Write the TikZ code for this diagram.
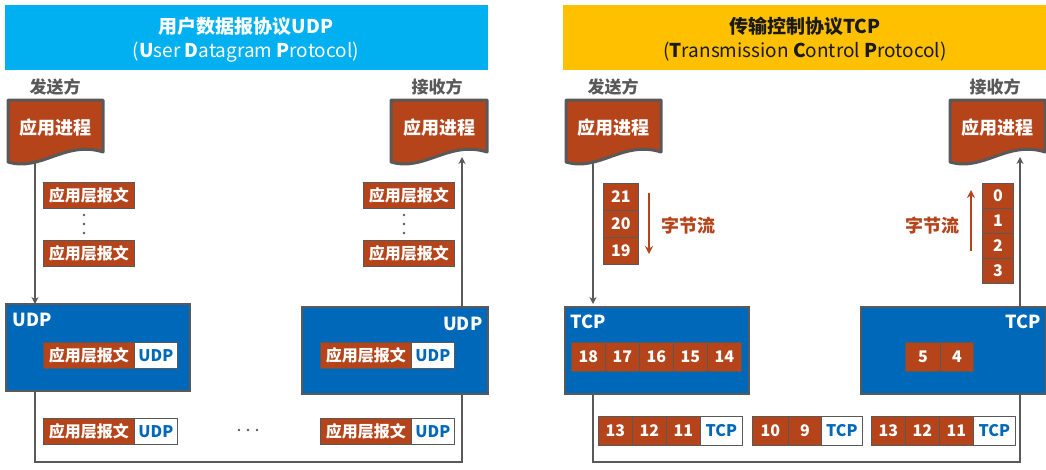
\documentclass[tikz,border=0pt]{standalone}
\usepackage{fontspec}
\setmainfont{Noto Sans CJK SC}
\usetikzlibrary{arrows.meta}
\definecolor{brn}{HTML}{B5441A}
\definecolor{blu}{HTML}{0068B8}
\definecolor{cyn}{HTML}{00B0F0}
\definecolor{gld}{HTML}{FFC000}
\definecolor{gry}{HTML}{595959}
\definecolor{ttl}{HTML}{1A1A1A}
\tikzset{
 cell/.style={draw=gry,fill=brn,text=white,font=\bfseries\fontsize{16}{16}\selectfont,inner sep=0pt,line width=0.8pt,anchor=north west},
 wcell/.style={draw=gry,fill=white,text=blu,font=\bfseries\fontsize{16}{16}\selectfont,inner sep=0pt,line width=0.8pt,anchor=north west},
 bbox/.style={draw=gry,fill=blu,line width=2pt},
 lbl/.style={font=\bfseries\fontsize{17}{17}\selectfont,text=gry},
 blab/.style={font=\bfseries\fontsize{18}{18}\selectfont,text=white},
 conn/.style={draw=gry,line width=2pt,-{Stealth[length=7pt,width=7pt]}},
 sarr/.style={draw=brn,line width=2.5pt,-{Stealth[length=8pt,width=8pt]}},
 doc/.style={draw=gry,fill=brn,line width=3pt,line join=round},
 ttlA/.style={font=\bfseries\fontsize{19}{19}\selectfont},
 ttlB/.style={font=\fontsize{19}{19}\selectfont}
}
\newcommand{\mydoc}[3]{% x0 x1 name
 \draw[doc] (#1,100) -- (#2,100) -- (#2,152) .. controls ({#1+0.6*(#2-#1)},140) and ({#1+0.35*(#2-#1)},172) .. (#1,162) -- cycle;
 \node[text=white,font=\bfseries\fontsize{18}{18}\selectfont] (#3) at ({(#1+#2)/2},128) {应用进程};
 \coordinate (#3b) at ({(#1+#2)/2},160);}
\begin{document}
\begin{tikzpicture}[x=1pt,y=-1pt]
\useasboundingbox (0,0) rectangle (1046,469);
% headers
\fill[cyn] (5,5) rectangle (488,70);
\fill[gld] (563,5) rectangle (1046,70);
\node[text=white,ttlA] (h1) at (246,26) {用户数据报协议UDP};
\node[text=white,ttlB] (h2) at (246,52) {(\textbf{U}ser \textbf{D}atagram \textbf{P}rotocol)};
\node[text=ttl,ttlA] (h3) at (805,26) {传输控制协议TCP};
\node[text=ttl,ttlB] (h4) at (805,52) {(\textbf{T}ransmission \textbf{C}ontrol \textbf{P}rotocol)};
% ===== UDP =====
\node[lbl] (s1) at (55,87) {发送方};
\node[lbl] (r1) at (437,87) {接收方};
\mydoc{8}{103}{ap1}
\mydoc{391}{487}{ap2}
\foreach \x/\n in {43/a,363/b}{
 \node[cell,minimum width=91pt,minimum height=26pt] (m\n1) at (\x,182) {应用层报文};
 \node[cell,minimum width=91pt,minimum height=26pt] (m\n2) at (\x,240) {应用层报文};
 \foreach \yy in {215,224,233} \fill[gry] ({\x+41},\yy) circle (1.3pt);
}
\draw[bbox] (6,304) rectangle (190,391);
\node[blab,anchor=west] (u1) at (9,320) {UDP};
\draw[bbox] (302,307) rectangle (488,394);
\node[blab,anchor=east] (u2) at (486,324) {UDP};
\newcommand{\udpmsg}[3]{%
 \node[cell,minimum width=91pt,minimum height=26pt] (#3a) at (#1,#2) {应用层报文};
 \node[wcell,minimum width=43pt,minimum height=26pt] (#3b) at (#1+91,#2) {UDP};}
\udpmsg{43}{342}{p1}
\udpmsg{320}{342}{p2}
\udpmsg{43}{418}{p3}
\udpmsg{320}{418}{p4}
\foreach \xx in {239,248,257} \fill[gry] (\xx,430) circle (1.4pt);
\coordinate (dots) at (248,430);
\coordinate (c1) at (35,304);
\draw[conn] (ap1b -| c1) -- (c1);
\coordinate (c2) at (35,462);
\coordinate (c3) at (462,462);
\coordinate (c4) at (462,394);
\draw[draw=gry,line width=2pt] (35,391) -- (c2) -- (c3) -- (c4);
\draw[conn] (462,307) -- (462,157);
% ===== TCP =====
\node[lbl] (s2) at (613,87) {发送方};
\node[lbl] (r2) at (995,87) {接收方};
\mydoc{566}{661}{ap3}
\mydoc{950}{1045}{ap4}
\foreach \t [count=\i from 0] in {21,20,19}
 \node[cell,minimum width=35pt,minimum height=27pt] (l\t) at (603,{183+27*\i}) {\t};
\draw[sarr] (649,193) -- (649,254);
\node[font=\bfseries\fontsize{18}{18}\selectfont,text=brn] (bf1) at (688,226) {字节流};
\foreach \t [count=\i from 0] in {0,1,2,3}
 \node[cell,minimum width=31pt,minimum height=25pt] (r\t) at (982,{183+25*\i}) {\t};
\draw[sarr] (971,251) -- (971,190);
\node[font=\bfseries\fontsize{18}{18}\selectfont,text=brn] (bf2) at (932,226) {字节流};
\draw[bbox] (565,307) rectangle (749,394);
\node[blab,anchor=west] (t1) at (567,322) {TCP};
\draw[bbox] (861,307) rectangle (1046,394);
\node[blab,anchor=east] (t2) at (1044,322) {TCP};
\foreach \t [count=\i from 0] in {18,17,16,15,14}
 \node[cell,minimum width=34pt,minimum height=29pt] (q\t) at ({571+34*\i},342) {\t};
\node[cell,minimum width=35pt,minimum height=29pt] (q5) at (905,342) {5};
\node[cell,minimum width=33pt,minimum height=29pt] (q4) at (940,342) {4};
\foreach \t [count=\i from 0] in {13,12,11}{
 \node[cell,minimum width=34pt,minimum height=29pt] (ba\t) at ({598+34*\i},416) {\t};
 \node[cell,minimum width=34pt,minimum height=29pt] (bc\t) at ({871+34*\i},416) {\t};}
\node[wcell,minimum width=42pt,minimum height=29pt] (baT) at (700,416) {TCP};
\node[wcell,minimum width=42pt,minimum height=29pt] (bcT) at (973,416) {TCP};
\node[cell,minimum width=36pt,minimum height=29pt] (bb10) at (752,416) {10};
\node[cell,minimum width=33pt,minimum height=29pt] (bb9) at (788,416) {9};
\node[wcell,minimum width=41pt,minimum height=29pt] (bbT) at (821,416) {TCP};
\coordinate (d1) at (593,304);
\draw[conn] (ap3b -| d1) -- (d1);
\draw[draw=gry,line width=2pt] (593,394) -- (593,462) -- (1020,462) -- (1020,394);
\draw[conn] (1020,307) -- (1020,157);
\end{tikzpicture}
\end{document}
